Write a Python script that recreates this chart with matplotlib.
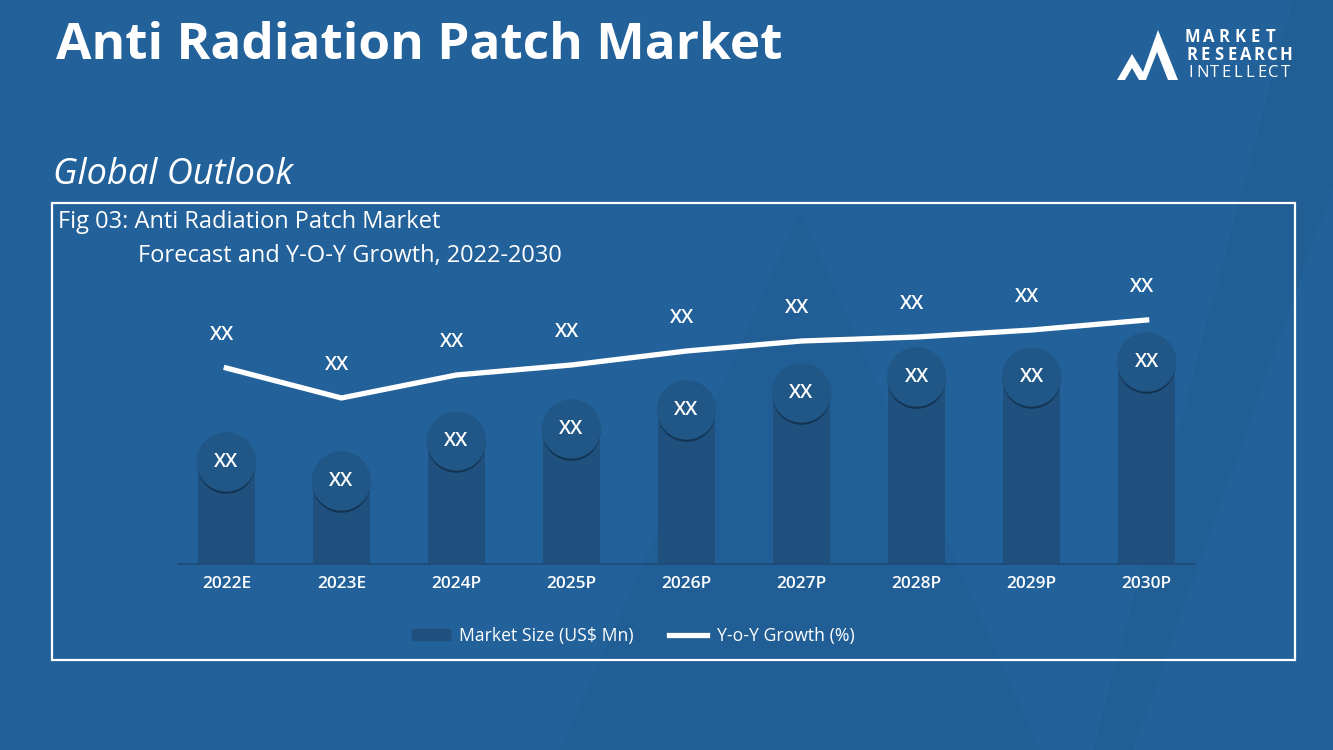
import matplotlib.pyplot as plt
from matplotlib.patches import Polygon, Rectangle
from matplotlib.lines import Line2D
import matplotlib.patheffects as pe

# data (arbitrary units, labels shown as "XX")
years = ["2022E", "2023E", "2024P", "2025P", "2026P", "2027P", "2028P", "2029P", "2030P"]
market_size = [102, 83, 123, 135, 154, 171, 187, 187, 202]
yoy_growth = [196, 166, 189, 199, 213, 223, 227, 234, 244]
value_labels = ["XX"] * len(years)

bg = "#22619a"
bar_col = "#1f507e"
circ_col = "#205787"
body_font = "Open Sans"

W, H = 1333, 750
fig = plt.figure(figsize=(W / 100, H / 100), dpi=100)
fig.patch.set_facecolor(bg)

def fx(x):
    return x / W

def fy(y):
    return 1 - y / H

# faint watermark shapes in the background
bgax = fig.add_axes([0, 0, 1, 1])
bgax.set_xlim(0, W)
bgax.set_ylim(H, 0)
bgax.axis("off")
bgax.add_patch(Polygon([(800, 210), (560, 750), (1040, 750)], closed=True, color="#1f5a8f", alpha=0.4, lw=0))
bgax.add_patch(Polygon([(1293, 0), (1333, 0), (1333, 187), (1133, 750), (1093, 750)], closed=True,
                       color="#1e5889", alpha=0.3, lw=0))

# header
fig.text(fx(56), fy(46), "Anti Radiation Patch Market", color="white", fontsize=37,
         fontweight="bold", family=body_font, va="center", ha="left")
fig.text(fx(53), fy(175), "Global Outlook", color="white", fontsize=26,
         style="italic", family=body_font, va="center", ha="left")

# logo
bgax.add_patch(Polygon([(1117, 80), (1132, 54), (1143, 72), (1158, 30), (1178, 80),
                        (1168, 80), (1157, 52), (1146, 80), (1139, 80), (1132, 68), (1125, 80)],
                       closed=True, color="white", lw=0))
logo_rows = [("MARKET", 37, "bold", 15.6), ("RESEARCH", 55, "bold", 13.4), ("INTELLECT", 73, "normal", 11.8)]
for word, yy, wt, step in logo_rows:
    for i, ch in enumerate(word):
        fig.text(fx(1185 + i * step + step / 2), fy(yy), ch, color="white", fontsize=12, fontweight=wt,
                 family=body_font, va="center", ha="center")

# frame
bgax.add_patch(Rectangle((52, 203), 1243, 457, fill=False, ec="white", lw=1.6))
fig.text(fx(58), fy(222), "Fig 03: Anti Radiation Patch Market", color="white", fontsize=17,
         family=body_font, va="center", ha="left")
fig.text(fx(138), fy(256), "Forecast and Y-O-Y Growth, 2022-2030", color="white", fontsize=17,
         family=body_font, va="center", ha="left")

# chart axes: baseline at y=564px, 300px tall
ax = fig.add_axes([fx(178), fy(564), fx(1195) - fx(178), 300 / H])
ax.set_facecolor("none")
x = list(range(len(years)))
ax.bar(x, market_size, width=0.5, color=bar_col, zorder=2)
ax.scatter(x, market_size, s=1745, color=circ_col, zorder=3,
           path_effects=[pe.SimplePatchShadow(offset=(0, -2), shadow_rgbFace="#12304d", alpha=0.9),
                         pe.Normal()])
for xi, v, lab in zip(x, market_size, value_labels):
    ax.text(xi, v, lab, color="white", fontsize=14, fontweight="semibold", ha="center", va="center",
            family=body_font, zorder=4)

ax.plot(x, yoy_growth, color="white", lw=3.8, zorder=5)
for xi, v, lab in zip(x, yoy_growth, value_labels):
    ax.annotate(lab, (xi, v), xytext=(-3, 24), textcoords="offset points", color="white",
                fontsize=14, fontweight="semibold", ha="center", va="center", family=body_font, zorder=6)

ax.set_xlim(-0.42, 8.42)
ax.set_ylim(0, 300)
ax.set_xticks(x)
ax.set_xticklabels(years, color="white", fontsize=12.5, fontweight="semibold", family=body_font)
ax.tick_params(axis="x", length=0, pad=9)
ax.set_yticks([])
for s in ["top", "right", "left"]:
    ax.spines[s].set_visible(False)
ax.spines["bottom"].set_color("#1d4b78")
ax.spines["bottom"].set_linewidth(1.2)

# legend
handles = [Rectangle((0, 0), 1, 1, color=bar_col),
           Line2D([0], [0], color="white", lw=3.8)]
fig.legend(handles, ["Market Size (US$ Mn)", "Y-o-Y Growth (%)"], loc="center",
           bbox_to_anchor=(fx(633), fy(636)), ncol=2, frameon=False, handleheight=0.55,
           labelcolor="white", handlelength=2.15, handletextpad=0.55, columnspacing=2.0,
           prop={"family": body_font, "size": 12.7})

fig.savefig("out.png", dpi=100, facecolor=bg)
